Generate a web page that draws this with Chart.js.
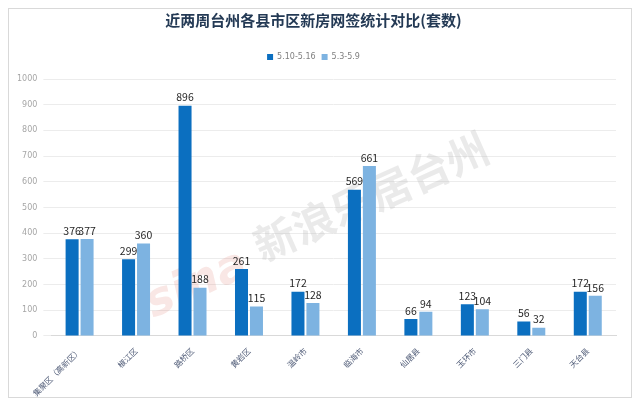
<!DOCTYPE html>
<html>
<head>
<meta charset="utf-8">
<script src="https://cdn.jsdelivr.net/npm/chart.js@4.4.1/dist/chart.umd.min.js"></script>
<style>
  html, body { margin: 0; padding: 0; background: #fff; }
  #wrap { position: relative; width: 640px; height: 400px; }
  #frame { position: absolute; left: 8px; top: 8px; width: 622px; height: 388px; border: 1px solid #d9d9d9; pointer-events: none; }
  canvas { position: absolute; left: 0; top: 0; }
</style>
</head>
<body>
<div id="wrap">
  <canvas id="chart" width="640" height="400"></canvas>
  <div id="frame"></div>
</div>
<script>
const getEl = (id) => document.getElementById(id);

const districts = ['集聚区（高新区）', '椒江区', '路桥区', '黄岩区', '温岭市', '临海市', '仙居县', '玉环市', '三门县', '天台县'];
const weekNow = [376, 299, 896, 261, 172, 569, 66, 123, 56, 172];
const weekPrev = [377, 360, 188, 115, 128, 661, 94, 104, 32, 156];
const seriesNames = ['5.10-5.16', '5.3-5.9'];
const yTicks = [0, 100, 200, 300, 400, 500, 600, 700, 800, 900, 1000];

// 柱顶数值
const valueLabels = {
    id: 'valueLabels',
    afterDatasetsDraw(chart) {
        const ctx = chart.ctx;
        ctx.save();
        ctx.font = '10.5px "Noto Sans CJK SC", "DejaVu Sans", sans-serif';
        ctx.fillStyle = '#262626';
        ctx.textAlign = 'center';
        ctx.textBaseline = 'bottom';
        chart.data.datasets.forEach((ds, i) => {
            chart.getDatasetMeta(i).data.forEach((bar, j) => {
                ctx.fillText(ds.data[j], bar.x, bar.y - 3);
            });
        });
        ctx.restore();
    }
};

// 图例下方留白
const legendGap = {
    id: 'legendGap',
    beforeInit(chart) {
        const fit = chart.legend.fit;
        chart.legend.fit = function () {
            fit.bind(chart.legend)();
            this.height += 8;
        };
    }
};

// 水印
const watermark = {
    id: 'watermark',
    beforeDatasetsDraw(chart) {
        const ctx = chart.ctx;
        ctx.save();
        ctx.translate(330, 215);
        ctx.rotate(-0.42);
        ctx.font = 'bold 42px "Noto Sans CJK SC", sans-serif';
        ctx.fillStyle = 'rgba(185,185,185,0.30)';
        ctx.textAlign = 'center';
        ctx.textBaseline = 'middle';
        ctx.fillText('新浪乐居台州', 45, 0);
        ctx.font = 'bold italic 46px "DejaVu Sans", sans-serif';
        ctx.fillStyle = 'rgba(220,120,110,0.18)';
        ctx.fillText('sina', -150, 10);
        ctx.restore();
    }
};

new Chart(getEl('chart').getContext('2d'), {
    type: 'bar',
    data: {
        labels: districts,
        datasets: [
            { label: seriesNames[0], data: weekNow, backgroundColor: '#0b6fc0', barPercentage: 0.87, categoryPercentage: 0.53 },
            { label: seriesNames[1], data: weekPrev, backgroundColor: '#7db3e1', barPercentage: 0.87, categoryPercentage: 0.53 }
        ]
    },
    options: {
        responsive: false,
        animation: false,
        layout: { padding: { left: 11, right: 24, top: 9, bottom: 0 } },
        plugins: {
            title: {
                display: true,
                text: '近两周台州各县市区新房网签统计对比(套数)',
                color: '#243a55',
                font: { size: 15, weight: 'bold', family: '"Noto Sans CJK SC", sans-serif' },
                padding: { top: 2, bottom: 18 }
            },
            legend: {
                labels: {
                    boxWidth: 6, boxHeight: 6, padding: 6,
                    color: '#7f7f7f',
                    font: { size: 8, family: '"DejaVu Sans", sans-serif' }
                }
            },
            tooltip: { enabled: false }
        },
        scales: {
            x: {
                grid: { display: false },
                border: { color: '#d9d9d9' },
                ticks: {
                    minRotation: 45, maxRotation: 45,
                    padding: 2,
                    color: '#4e5a76',
                    font: { size: 8, family: '"Noto Sans CJK SC", sans-serif' }
                }
            },
            y: {
                min: 0, max: 1000,
                afterBuildTicks: (axis) => { axis.ticks = yTicks.map(v => ({ value: v })); },
                grid: { color: '#ececec' },
                border: { display: false },
                ticks: {
                    color: '#a6a6a6',
                    padding: 6,
                    callback: (v) => String(v),
                    font: { size: 8, family: '"DejaVu Sans", sans-serif' }
                }
            }
        }
    },
    plugins: [legendGap, watermark, valueLabels]
});
</script>
</body>
</html>
